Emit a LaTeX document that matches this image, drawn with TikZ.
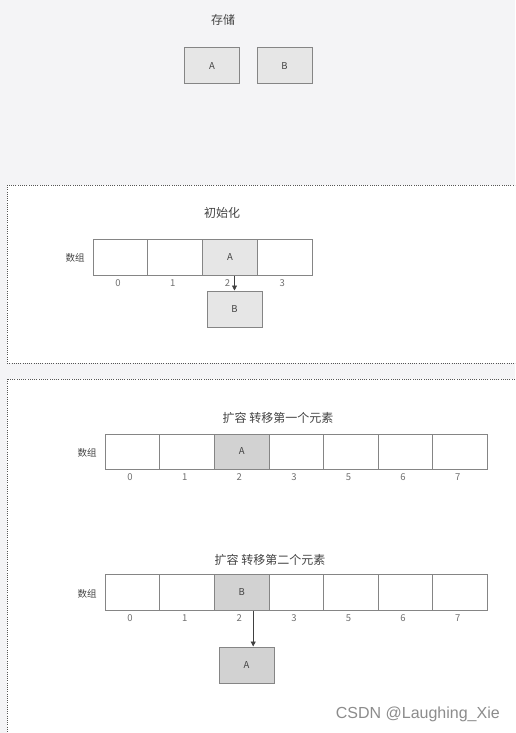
\documentclass[tikz,border=0pt]{standalone}
\usepackage{fontspec}
\setmainfont{Noto Sans CJK SC}
\newfontfamily\wmfont{Liberation Sans}
\usetikzlibrary{arrows.meta,calc}
\definecolor{bgpat}{HTML}{F4F4F6}
\definecolor{cellline}{HTML}{858585}
\definecolor{lightfill}{HTML}{E6E6E6}
\definecolor{darkfill}{HTML}{D2D2D2}
\definecolor{txt}{HTML}{444444}
\definecolor{idx}{HTML}{707070}
\definecolor{frameline}{HTML}{555555}
\tikzset{
  cellbox/.style={draw=cellline, line width=1pt, fill=white, minimum height=36pt, inner sep=0pt, font=\fontsize{9.5}{11}\selectfont, text=txt},
  lightcell/.style={cellbox, fill=lightfill},
  darkcell/.style={cellbox, fill=darkfill},
  titletext/.style={font=\fontsize{12}{14}\selectfont, text=txt, inner sep=0pt},
  sidetext/.style={font=\fontsize{9.5}{11}\selectfont, text=txt, inner sep=0pt},
  idxtext/.style={font=\fontsize{9.5}{11}\selectfont, text=idx, inner sep=0pt},
  framebox/.style={draw=frameline, line width=0.8pt, dash pattern=on 1pt off 1.2pt, fill=white},
  arr/.style={draw=black!75, line width=0.7pt, -{Triangle[length=5pt,width=5pt]}}
}
\begin{document}
\begin{tikzpicture}[x=1pt,y=-1pt]
\path[use as bounding box] (0,0) rectangle (515,733);
\clip (0,0) rectangle (515,733);
\fill[bgpat] (0,0) rectangle (515,733);

% section 1: storage
\node[titletext] (t1) at (223,20) {存储};
\node[lightcell, minimum width=55pt] (sa) at (212,66) {A};
\node[lightcell, minimum width=55pt] (sb) at (284.5,66) {B};

% section 2 frame
\draw[framebox] (7,185) rectangle (530,363);
\node[titletext] (t2) at (222,213) {初始化};
\node[sidetext] (l2) at (75,258) {数组};
\foreach \i/\st/\lab in {0/cellbox/,1/cellbox/,2/lightcell/A,3/cellbox/} {
  \node[\st, minimum width=54.75pt] (a\i) at (120.4+54.75*\i,257) {\lab};
  \node[idxtext] (ai\i) at ($(a\i.south)+(-2.5,8)$) {\i};
}
\node[lightcell, minimum width=55pt] (ib) at (234.5,309) {B};
\draw[arr] (ib.north |- a2.south) -- (ib.north);

% section 3/4 frame
\draw[framebox] (7,379) rectangle (530,760);

\node[titletext] (t3) at (278,418) {扩容 转移第一个元素};
\node[sidetext] (l3) at (87,453) {数组};
\foreach \i/\st/\lab/\n in {0/cellbox//0,1/cellbox//1,2/darkcell/A/2,3/cellbox//3,4/cellbox//5,5/cellbox//6,6/cellbox//7} {
  \node[\st, minimum width=54.6pt, minimum height=35pt] (b\i) at (132.6+54.6*\i,451.5) {\lab};
  \node[idxtext] (bi\i) at ($(b\i.south)+(-2.5,8)$) {\n};
}

\node[titletext] (t4) at (270,560) {扩容 转移第二个元素};
\node[sidetext] (l4) at (87,594) {数组};
\foreach \i/\st/\lab/\n in {0/cellbox//0,1/cellbox//1,2/darkcell/B/2,3/cellbox//3,4/cellbox//5,5/cellbox//6,6/cellbox//7} {
  \node[\st, minimum width=54.6pt] (d\i) at (132.6+54.6*\i,592) {\lab};
  \node[idxtext] (di\i) at ($(d\i.south)+(-2.5,8)$) {\n};
}
\node[darkcell, minimum width=55pt] (na) at (246.5,665) {A};
\coordinate (ptop) at ($(d2.south)+(11.4,0)$);
\draw[arr] (ptop) -- (ptop |- na.north);

\node[font=\wmfont\fontsize{16}{18}\selectfont, text=black!45, anchor=east, inner sep=0pt] (wm) at (500,714) {CSDN @Laughing\_Xie};
\end{tikzpicture}
\end{document}
